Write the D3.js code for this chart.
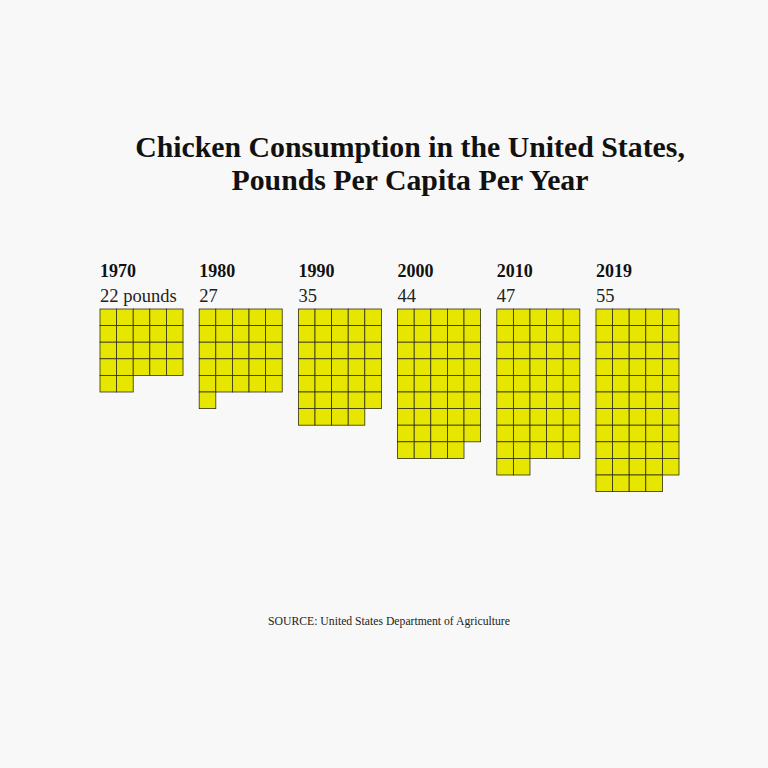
<!DOCTYPE html>
<html>
<head>
<meta charset="utf-8">
<script src="https://cdn.jsdelivr.net/npm/d3@7"></script>
<style>
  html, body { margin: 0; padding: 0; background: #f8f8f8; }
  svg { display: block; }
  .title { font-family: "Liberation Serif", "DejaVu Serif", serif; font-weight: 700; font-size: 29.8px; fill: #111; }
  .year { font-family: "Liberation Serif", serif; font-weight: 700; font-size: 18px; fill: #111; }
  .value { font-family: "Liberation Serif", serif; font-size: 18.5px; fill: #222; }
  .source { font-family: "Liberation Serif", serif; font-size: 11.7px; fill: #222; }
</style>
</head>
<body>
<svg id="chart" width="768" height="768"></svg>
<script>
const years = ["1970", "1980", "1990", "2000", "2010", "2019"];
// pounds per capita (estimated; labels are rounded, squares show whole pounds)
const pounds = [22.2, 26.7, 34.6, 44.3, 47.2, 54.7];
const unitLabel = " pounds";
const perRow = 5;

const width = 768, height = 768;
const cell = 16.6;

const svg = d3.select("#chart");
svg.append("rect").attr("width", width).attr("height", height).attr("fill", "#f8f8f8");

const title = svg.append("text").attr("class", "title").attr("text-anchor", "middle");
title.append("tspan").attr("x", 410).attr("y", 157).text("Chicken Consumption in the United States,");
title.append("tspan").attr("x", 410).attr("y", 190).text("Pounds Per Capita Per Year");

const x = d3.scaleBand()
  .domain(years)
  .range([100, 679])
  .paddingInner(0.163);

const col = d3.scaleBand()
  .domain(d3.range(perRow))
  .range([0, x.bandwidth()]);

const gridTop = 309;
const row = d3.scaleLinear().domain([0, 1]).range([gridTop, gridTop + cell]);

const fmt = d3.format(".0f");

const groups = svg.selectAll("g.year-col")
  .data(years.map((year, i) => ({ year, value: pounds[i], i })))
  .join("g")
  .attr("class", "year-col")
  .attr("transform", d => `translate(${x(d.year)},0)`);

groups.append("text")
  .attr("class", "year")
  .attr("x", 0)
  .attr("y", 277)
  .text(d => d.year);

groups.append("text")
  .attr("class", "value")
  .attr("x", 0)
  .attr("y", 302)
  .text(d => fmt(d.value) + (d.i === 0 ? unitLabel : ""));

groups.selectAll("rect.cell")
  .data(d => d3.range(Math.floor(d.value)))
  .join("rect")
  .attr("class", "cell")
  .attr("x", k => col(k % perRow))
  .attr("y", k => row(Math.floor(k / perRow)))
  .attr("width", col.bandwidth())
  .attr("height", cell)
  .attr("fill", "#e6e600")
  .attr("stroke", "#2f2f14")
  .attr("stroke-width", 0.8);

svg.append("text")
  .attr("class", "source")
  .attr("x", 389)
  .attr("y", 625)
  .attr("text-anchor", "middle")
  .text("SOURCE: United States Department of Agriculture");
</script>
</body>
</html>
